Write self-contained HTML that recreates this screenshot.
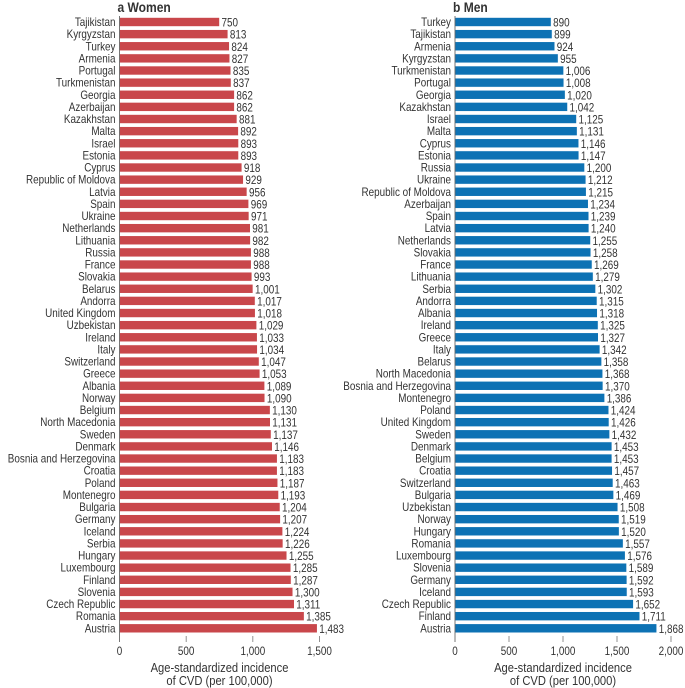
<!DOCTYPE html>
<html><head><meta charset="utf-8"><style>
html,body{margin:0;padding:0;background:#fff;width:685px;height:688px;overflow:hidden}
svg text{font-family:"Liberation Sans",sans-serif;fill:#333}
</style></head><body>
<svg id="chart" width="685" height="688" xmlns="http://www.w3.org/2000/svg"></svg>
<script>
const womenCountries=["Tajikistan","Kyrgyzstan","Turkey","Armenia","Portugal","Turkmenistan","Georgia","Azerbaijan","Kazakhstan","Malta","Israel","Estonia","Cyprus","Republic of Moldova","Latvia","Spain","Ukraine","Netherlands","Lithuania","Russia","France","Slovakia","Belarus","Andorra","United Kingdom","Uzbekistan","Ireland","Italy","Switzerland","Greece","Albania","Norway","Belgium","North Macedonia","Sweden","Denmark","Bosnia and Herzegovina","Croatia","Poland","Montenegro","Bulgaria","Germany","Iceland","Serbia","Hungary","Luxembourg","Finland","Slovenia","Czech Republic","Romania","Austria"];
const womenValues=[750,813,824,827,835,837,862,862,881,892,893,893,918,929,956,969,971,981,982,988,988,993,1001,1017,1018,1029,1033,1034,1047,1053,1089,1090,1130,1131,1137,1146,1183,1183,1187,1193,1204,1207,1224,1226,1255,1285,1287,1300,1311,1385,1483];
const menCountries=["Turkey","Tajikistan","Armenia","Kyrgyzstan","Turkmenistan","Portugal","Georgia","Kazakhstan","Israel","Malta","Cyprus","Estonia","Russia","Ukraine","Republic of Moldova","Azerbaijan","Spain","Latvia","Netherlands","Slovakia","France","Lithuania","Serbia","Andorra","Albania","Ireland","Greece","Italy","Belarus","North Macedonia","Bosnia and Herzegovina","Montenegro","Poland","United Kingdom","Sweden","Denmark","Belgium","Croatia","Switzerland","Bulgaria","Uzbekistan","Norway","Hungary","Romania","Luxembourg","Slovenia","Germany","Iceland","Czech Republic","Finland","Austria"];
const menValues=[890,899,924,955,1006,1008,1020,1042,1125,1131,1146,1147,1200,1212,1215,1234,1239,1240,1255,1258,1269,1279,1302,1315,1318,1325,1327,1342,1358,1368,1370,1386,1424,1426,1432,1453,1453,1457,1463,1469,1508,1519,1520,1557,1576,1589,1592,1593,1652,1711,1868];
const womenTicks=[0,500,1000,1500];
const menTicks=[0,500,1000,1500,2000];

const svg=document.getElementById('chart');
const NS="http://www.w3.org/2000/svg";
function mk(tag,attrs,parent){const e=document.createElementNS(NS,tag);for(const k in attrs)e.setAttribute(k,attrs[k]);(parent||svg).appendChild(e);return e;}
const fmt=v=>v.toLocaleString('en-US');
const SX=0.86;
function stext(parent,x,y,size,anchor,str,weight){
  const g=mk('g',{transform:'translate('+x+','+y+') scale('+SX+',1)'},parent);
  const t=mk('text',{x:0,y:0,'font-size':size,'text-anchor':anchor},g);
  if(weight)t.setAttribute('font-weight',weight);
  t.textContent=str;
  return t;
}

function panel(cfg){
  const g=mk('g',{});
  
  
  const x=v=>cfg.x0+v*(cfg.x1-cfg.x0)/cfg.max;
  const n=cfg.cats.length;
  const top=22,bottom=628.3;
  const step=(bottom-top)/(n-1);
  const y=i=>top+i*step;
  const t=stext(g,cfg.x0-2,12,'14','start',cfg.title,'bold');
  
  
  cfg.cats.forEach((c,i)=>{
    const v=cfg.vals[i];
    const r=mk('rect',{x:cfg.x0,y:y(i)-4.5,width:x(v)-cfg.x0,height:9,fill:cfg.color,stroke:'#fff','stroke-width':'0.6'},g);
    
    
    const l=stext(g,cfg.x0-4,y(i)+4,'11.5','end',c);
    
    
    const vl=stext(g,x(v)+2,y(i)+4.5,'11.5','start',fmt(v));
    
    
  });
  const ay=636;
  const ax=mk('line',{x1:cfg.x0,x2:cfg.x0,y1:16,y2:ay+6,stroke:'#555','stroke-width':'0.8'},g);
  
  
  cfg.ticks.forEach(tv=>{
    const tk=mk('line',{x1:x(tv),x2:x(tv),y1:ay,y2:ay+6,stroke:'#777','stroke-width':'0.8'},g);
    
    
    const tl=stext(g,x(tv),655,'11.5','middle',fmt(tv));
    
    
  });
  const cx=cfg.x0+(cfg.x1-cfg.x0)/2;
  const a1=stext(g,cx,672,'13','middle','Age-standardized incidence');
  
  
  const a2=stext(g,cx,685,'13','middle','of CVD (per 100,000)');
  
  
}
panel({name:'women',title:'a  Women',cats:womenCountries,vals:womenValues,ticks:womenTicks,x0:119.5,x1:319.5,max:1500,color:'#c9474b'});
panel({name:'men',title:'b  Men',cats:menCountries,vals:menValues,ticks:menTicks,x0:455,x1:671,max:2000,color:'#0d72b4'});
</script>
</body></html>
